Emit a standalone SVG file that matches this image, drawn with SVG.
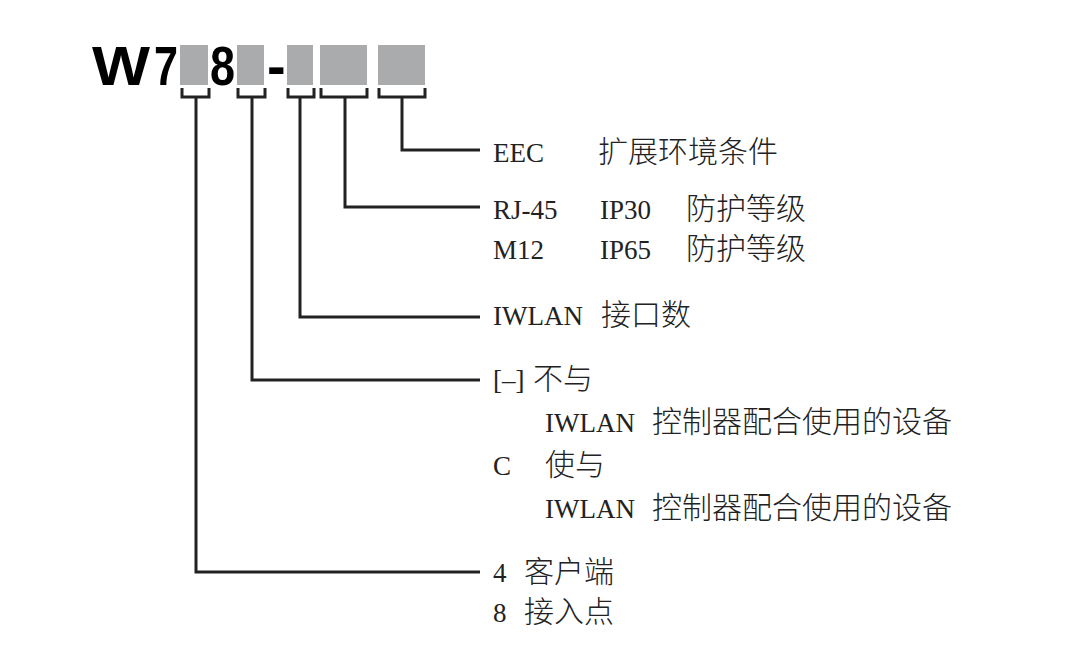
<svg xmlns="http://www.w3.org/2000/svg" width="1080" height="663" viewBox="0 0 1080 663">
<style>
.t{font-family:"Liberation Serif","Noto Sans CJK SC",serif;font-size:27px;fill:#222}
.c{font-family:"Noto Sans CJK SC",serif;font-size:30px;font-weight:300}
.b{font-family:"Liberation Sans",sans-serif;font-weight:bold;font-size:56px;fill:#000}
.g{fill:#a9abad}
.l{fill:none;stroke:#222;stroke-width:3}
</style>
<rect width="1080" height="663" fill="#fff"/>
<g id="code">
<text class="b" x="92" y="85" textLength="58" lengthAdjust="spacingAndGlyphs">W</text>
<text class="b" x="154" y="85" textLength="24" lengthAdjust="spacingAndGlyphs">7</text>
<text class="b" x="210" y="85" textLength="25" lengthAdjust="spacingAndGlyphs">8</text>
<text class="b" x="267" y="85">-</text>
<rect class="g" x="180" y="45" width="28" height="40"/>
<rect class="g" x="237" y="45" width="27" height="40"/>
<rect class="g" x="287" y="45" width="26" height="40"/>
<rect class="g" x="320" y="45" width="47" height="40"/>
<rect class="g" x="378" y="45" width="47" height="40"/>
</g>
<g id="connectors">
<path class="l" d="M182 88V97H209V88M196 97V572H480"/>
<path class="l" d="M238 88V97H265V88M252 97V380H480"/>
<path class="l" d="M288 88V97H314V88M300 97V317H480"/>
<path class="l" d="M321 88V97H367V88M345 97V207H480"/>
<path class="l" d="M379 88V97H425V88M402 97V150H480"/>
</g>
<g id="n1"><text class="t" y="162"><tspan x="493">EEC</tspan><tspan class="c" x="598">扩展环境条件</tspan></text></g>
<g id="n2"><text class="t" y="219"><tspan x="493">RJ-45</tspan><tspan x="600">IP30</tspan><tspan class="c" x="686">防护等级</tspan></text>
<text class="t" y="259"><tspan x="493">M12</tspan><tspan x="600">IP65</tspan><tspan class="c" x="686">防护等级</tspan></text></g>
<g id="n3"><text class="t" y="325"><tspan x="493">IWLAN</tspan><tspan class="c" x="601">接口数</tspan></text></g>
<g id="n4"><text class="t" y="389"><tspan x="493">[–]</tspan><tspan class="c" x="533">不与</tspan></text>
<text class="t" y="432"><tspan x="545">IWLAN</tspan><tspan class="c" x="652">控制器配合使用的设备</tspan></text>
<text class="t" y="475"><tspan x="493">C</tspan><tspan class="c" x="545">使与</tspan></text>
<text class="t" y="518"><tspan x="545">IWLAN</tspan><tspan class="c" x="652">控制器配合使用的设备</tspan></text></g>
<g id="n5"><text class="t" y="582"><tspan x="493">4</tspan><tspan class="c" x="524">客户端</tspan></text>
<text class="t" y="622"><tspan x="493">8</tspan><tspan class="c" x="524">接入点</tspan></text></g>
</svg>
